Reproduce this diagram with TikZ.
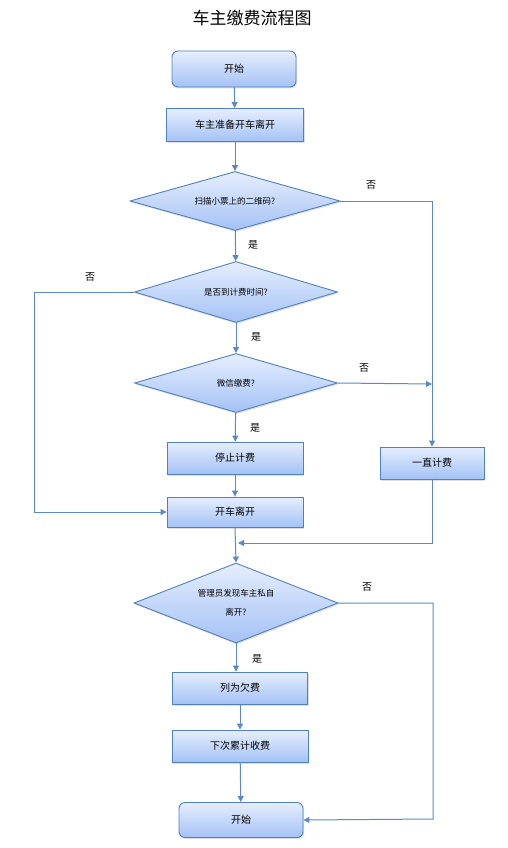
\documentclass[tikz,border=0pt]{standalone}
\usepackage{fontspec}
\setmainfont{Noto Sans CJK SC}
\usetikzlibrary{shapes.geometric,arrows.meta,shadows}
\definecolor{edgeblue}{HTML}{4F81BD}
\definecolor{lineblue}{HTML}{5A8AC6}
\definecolor{filltop}{HTML}{E6EEFD}
\definecolor{fillbot}{HTML}{A4C2F6}
\begin{document}
\begin{tikzpicture}[x=1pt,y=-1pt,
    base/.style={draw=edgeblue,line width=0.9pt,top color=filltop,bottom color=fillbot,
      drop shadow={opacity=0.25,shadow xshift=1pt,shadow yshift=-1.5pt},
      font=\fontsize{10}{12}\selectfont,inner sep=0pt},
    startbox/.style={base,rounded corners=6pt,minimum width=124pt,minimum height=36pt},
    stepbox/.style={base,minimum width=137pt,minimum height=33pt},
    askbox/.style={base,diamond,aspect=3.5,font=\fontsize{8.5}{10}\selectfont},
    flow/.style={draw=lineblue,line width=1pt,-{Triangle[length=6pt,width=6pt]}},
    yesno/.style={font=\fontsize{10}{12}\selectfont}]
  \useasboundingbox (0,0) rectangle (508,848);

  \node at (252,18) {\fontsize{17}{19}\selectfont 车主缴费流程图};

  \node[startbox] (start) at (234,69) {开始};
  \node[stepbox] (prep) at (235,125) {车主准备开车离开};
  \node[askbox,minimum width=210pt,minimum height=59pt] (scan) at (235,201) {扫描小票上的二维码?};
  \node[askbox,minimum width=203pt,minimum height=61pt] (ontime) at (236,292) {是否到计费时间?};
  \node[askbox,minimum width=203pt,minimum height=59pt] (wechat) at (236,383) {微信缴费?};
  \node[stepbox,minimum width=136pt,minimum height=32pt] (stop) at (235,458) {停止计费};
  \node[stepbox,minimum width=136pt,minimum height=30pt] (leave) at (235,512) {开车离开};
  \node[stepbox,minimum width=104pt,minimum height=32pt] (keep) at (432,463) {一直计费};
  \node[askbox,minimum width=204pt,minimum height=80pt,align=center] (check) at (236,603)
        {管理员发现车主私自\\[9pt]离开?};
  \node[stepbox,minimum width=135pt,minimum height=32pt] (debt) at (240,688) {列为欠费};
  \node[stepbox,minimum width=136pt,minimum height=32pt] (next) at (240,746) {下次累计收费};
  \node[startbox,minimum height=35pt] (finish) at (241,820) {开始};

  \coordinate (lft) at (34,512);
  \coordinate (rjoin) at (432,384);
  \coordinate (mjoin) at (238,543);
  \coordinate (rbot) at (433,819);

  \draw[flow] (start) -- (prep);
  \draw[flow] (prep) -- (prep |- scan.north);
  \draw[flow] (scan) -- (ontime);
  \draw[flow] (scan.east) -| (keep.north);
  \draw[flow] (ontime) -- (wechat);
  \draw[flow] (ontime.west) -| (lft) -- (leave.west);
  \draw[flow] (wechat.east) -- (rjoin);
  \draw[flow] (wechat) -- (stop);
  \draw[flow] (stop) -- (leave);
  \draw[flow] (keep.south) |- (mjoin);
  \draw[flow] (leave.south) -- (check.north);
  \draw[flow] (check.south) -- (check.south |- debt.north);
  \draw[flow] (debt) -- (next);
  \draw[flow] (next) -- (finish);
  \draw[flow] (check.east) -| (rbot) -- (finish.east);

  \node[yesno] at (371,185) {否};
  \node[yesno] at (253,245) {是};
  \node[yesno] at (90,277) {否};
  \node[yesno] at (256,337) {是};
  \node[yesno] at (364,368) {否};
  \node[yesno] at (255,428) {是};
  \node[yesno] at (367,587) {否};
  \node[yesno] at (257,659) {是};
\end{tikzpicture}
\end{document}
